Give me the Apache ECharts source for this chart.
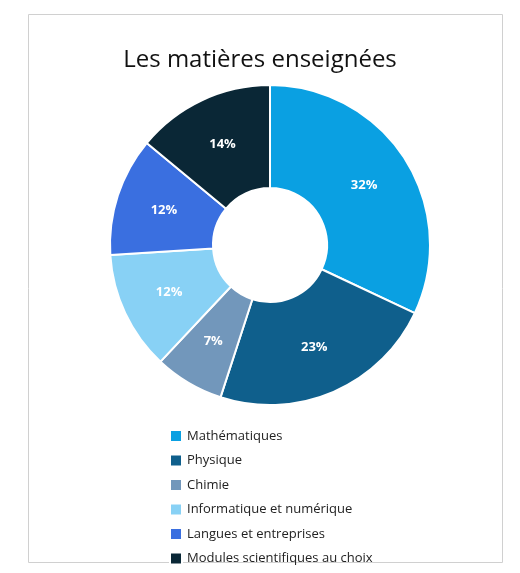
<!DOCTYPE html>
<html><head><meta charset="utf-8">
<script src="https://cdn.jsdelivr.net/npm/echarts@6/dist/echarts.min.js"></script>
<style>html,body{margin:0;padding:0;background:#fff}#c{width:520px;height:573px}</style>
</head><body><div id="c"></div>
<script>
const categories=["Mathématiques","Physique","Chimie","Informatique et numérique","Langues et entreprises","Modules scientifiques au choix"];
const values=[32,23,7,12,12,14];
const colors=["#0aa0e2","#0f5f8c","#7297bb","#88d1f5","#3a6fe0","#0a2736"];
const chart=echarts.init(document.getElementById('c'));
chart.setOption({
  graphic:[{type:'rect',shape:{x:28.5,y:14.5,width:474,height:548},style:{fill:'#fff',stroke:'#d0d0d0',lineWidth:1}}],
  title:{text:'Les matières enseignées',left:'center',top:43,textStyle:{fontFamily:'Open Sans',fontSize:24,fontWeight:'normal',color:'#111'}},
  legend:{orient:'vertical',left:164,top:424,itemWidth:12,itemHeight:12,itemGap:10.5,icon:'rect',
    textStyle:{fontFamily:'Open Sans',fontSize:13,color:'#222'},data:categories},
  series:[{type:'pie',center:[270,245],radius:[57,160],startAngle:90,clockwise:true,
    itemStyle:{borderColor:'#fff',borderWidth:2},
    label:{position:'inside',formatter:'{c}%',color:'#fff',fontFamily:'Open Sans',fontWeight:'bold',fontSize:13},
    labelLine:{show:false},
    data:categories.map((n,i)=>({name:n,value:values[i],itemStyle:{color:colors[i]}}))}]
});
</script></body></html>
